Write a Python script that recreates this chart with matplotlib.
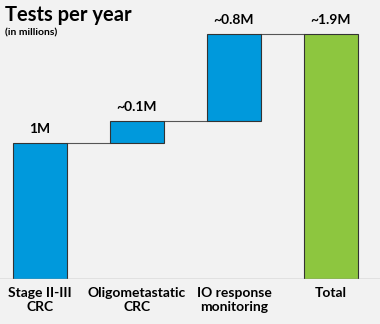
import matplotlib.pyplot as plt

categories = ["Stage II-III\nCRC", "Oligometastatic\nCRC", "IO response\nmonitoring", "Total"]
steps = [1.0, 0.16, 0.64]
value_labels = ["1M", "~0.1M", "~0.8M", "~1.9M"]

bg = "#f2f2f2"
blue = "#0099dc"
green = "#8dc63f"

plt.rcParams["font.family"] = ["Lato", "DejaVu Sans"]

fig = plt.figure(figsize=(3.8, 3.24), dpi=100, facecolor=bg)
ax = fig.add_axes([0, 45 / 324, 1, 279 / 324])
ax.set_facecolor(bg)

bottoms = []
run = 0
for s in steps:
    bottoms.append(run)
    run += s
total = run
heights = steps + [total]
bottoms = bottoms + [0]
colors = [blue] * len(steps) + [green]
x = list(range(len(categories)))
w = 0.557

ax.bar(x, heights, bottom=bottoms, width=w, color=colors,
       edgecolor="#333333", linewidth=0.8, zorder=3)

# connectors
for i in range(len(x) - 1):
    level = bottoms[i] + heights[i]
    ax.plot([x[i] + w / 2, x[i + 1] - w / 2], [level, level],
            color="#555555", linewidth=0.8, zorder=2)

for i in range(len(x)):
    top = bottoms[i] + heights[i]
    ax.text(x[i], top + 0.06, value_labels[i], ha="center", va="bottom",
            fontsize=10, fontweight="bold", color="black")

ax.axhline(0, color="#a0a0a0", linewidth=1, zorder=4)
ax.set_xlim(-0.412, 3.505)
ax.set_ylim(0, 2.05)
ax.axis("off")

for i, c in enumerate(categories):
    ax.text(x[i], -0.06, c, ha="center", va="top", fontsize=10,
            fontweight="bold", color="black", linespacing=1.2)

fig.text(5 / 380, 1 - 21 / 324, "Tests per year", fontsize=14.5,
         fontweight="bold", color="black", ha="left", va="baseline")
fig.text(5 / 380, 1 - 35 / 324, "(in millions)", fontsize=7.5,
         fontweight="bold", color="black", ha="left", va="baseline")

fig.savefig("out.png", dpi=100, facecolor=bg)
